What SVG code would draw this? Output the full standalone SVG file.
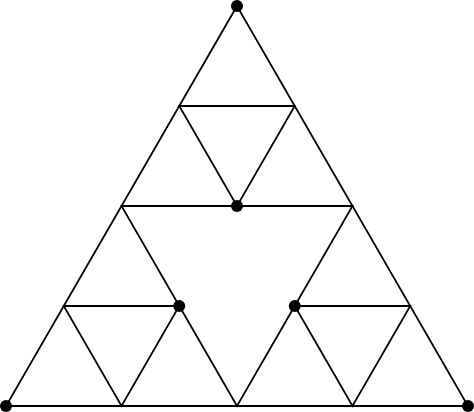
<svg xmlns="http://www.w3.org/2000/svg" width="474" height="412" viewBox="0 0 474 412">
<style>
.l{fill:none;stroke:#000;stroke-width:1.8;stroke-linejoin:miter}
.d{fill:#000}
</style>
<rect width="474" height="412" fill="#fff"/>
<g id="connectors">
<polygon class="l" points="237,6 6,406 468,406"/>
<polygon class="l" points="121.5,206 352.5,206 237,406"/>
<polygon class="l" points="179.25,106 294.75,106 237,206"/>
<polygon class="l" points="63.75,306 179.25,306 121.5,406"/>
<polygon class="l" points="294.75,306 410.25,306 352.5,406"/>
</g>
<g id="n1"><circle class="d" cx="237" cy="6" r="6"/></g>
<g id="n2"><circle class="d" cx="6" cy="406" r="6"/></g>
<g id="n3"><circle class="d" cx="468" cy="406" r="6"/></g>
<g id="n4"><circle class="d" cx="237" cy="206" r="6"/></g>
<g id="n5"><circle class="d" cx="179.25" cy="306" r="6"/></g>
<g id="n6"><circle class="d" cx="294.75" cy="306" r="6"/></g>
</svg>
